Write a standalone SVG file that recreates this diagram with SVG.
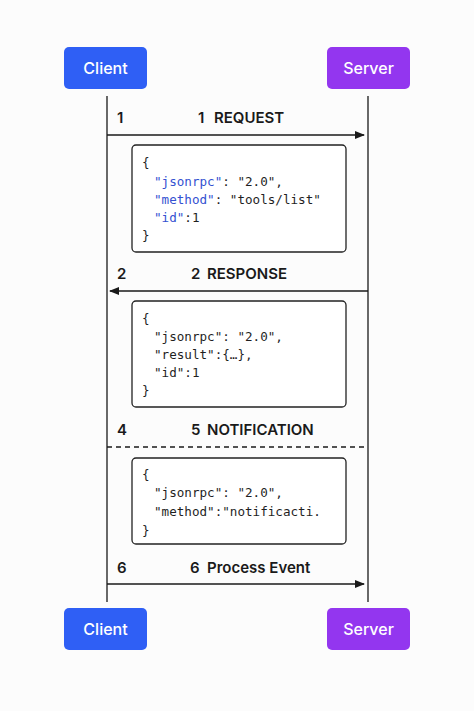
<svg xmlns="http://www.w3.org/2000/svg" width="474" height="711" viewBox="0 0 474 711">
<defs>
<marker id="ah" markerWidth="10" markerHeight="8" refX="9" refY="4" orient="auto" markerUnits="userSpaceOnUse">
<path d="M0,0 L10,4 L0,8 Z" fill="#1a1a1a"/>
</marker>
<style>
.client{fill:#2f5ff5}
.server{fill:#9336ef}
.nl{font-family:Inter,"Liberation Sans",sans-serif;font-size:16px;font-weight:500;fill:#fff;text-anchor:middle}
.life{stroke:#1a1a1a;stroke-width:1.3;fill:none}
.msg{stroke:#1a1a1a;stroke-width:1.3;fill:none}
.lbl{font-family:Inter,"Liberation Sans",sans-serif;font-size:15px;font-weight:600;fill:#1a1a1a}
.box{fill:#fff;stroke:#222;stroke-width:1.3}
.code{font-family:"DejaVu Sans Mono","Liberation Mono",monospace;font-size:12.6px;fill:#1f1f1f;white-space:pre}
.key{fill:#3451d1}
</style>
</defs>
<rect width="474" height="711" fill="#fcfcfc"/>
<g id="connectors">
<line class="life" x1="107" y1="96" x2="107" y2="602"/>
<line class="life" x1="368" y1="96" x2="368" y2="602"/>
<line class="msg" x1="107" y1="135" x2="364" y2="135" marker-end="url(#ah)"/>
<line class="msg" x1="368" y1="291" x2="110" y2="291" marker-end="url(#ah)"/>
<line class="msg" x1="107" y1="447" x2="368" y2="447" stroke-dasharray="5,4"/>
<line class="msg" x1="107" y1="584" x2="364" y2="584" marker-end="url(#ah)"/>
<text class="lbl" x="117" y="123">1</text>
<text class="lbl" x="198" y="123">1<tspan x="214">REQUEST</tspan></text>
<text class="lbl" x="117" y="279">2</text>
<text class="lbl" x="191" y="279">2<tspan x="207">RESPONSE</tspan></text>
<text class="lbl" x="117" y="435">4</text>
<text class="lbl" x="191" y="435">5<tspan x="207">NOTIFICATION</tspan></text>
<text class="lbl" x="117" y="573">6</text>
<text class="lbl" x="190" y="573">6<tspan x="207">Process Event</tspan></text>
</g>
<g id="client-top"><rect class="client" x="64" y="47" width="83" height="42" rx="5"/><text class="nl" x="105.5" y="74">Client</text></g>
<g id="server-top"><rect class="server" x="327" y="47" width="83" height="42" rx="5"/><text class="nl" x="368.5" y="74">Server</text></g>
<g id="client-bottom"><rect class="client" x="64" y="608" width="83" height="42" rx="5"/><text class="nl" x="105.5" y="635">Client</text></g>
<g id="server-bottom"><rect class="server" x="327" y="608" width="83" height="42" rx="5"/><text class="nl" x="368.5" y="635">Server</text></g>
<g id="request-body">
<rect class="box" x="132" y="145" width="214" height="107" rx="4"/>
<text class="code" x="142" y="167">{</text>
<text class="code" x="154" y="186"><tspan class="key">"jsonrpc"</tspan>: "2.0",</text>
<text class="code" x="154" y="204"><tspan class="key">"method"</tspan>: "tools/list"</text>
<text class="code" x="154" y="222"><tspan class="key">"id"</tspan>:1</text>
<text class="code" x="142" y="240">}</text>
</g>
<g id="response-body">
<rect class="box" x="132" y="301" width="214" height="106" rx="4"/>
<text class="code" x="142" y="323">{</text>
<text class="code" x="154" y="341">"jsonrpc": "2.0",</text>
<text class="code" x="154" y="359">"result":{…},</text>
<text class="code" x="154" y="377">"id":1</text>
<text class="code" x="142" y="395">}</text>
</g>
<g id="notification-body">
<rect class="box" x="132" y="458" width="214" height="86" rx="4"/>
<text class="code" x="142" y="479">{</text>
<text class="code" x="154" y="497">"jsonrpc": "2.0",</text>
<text class="code" x="154" y="516">"method":"notificacti.</text>
<text class="code" x="142" y="535">}</text>
</g>
</svg>
